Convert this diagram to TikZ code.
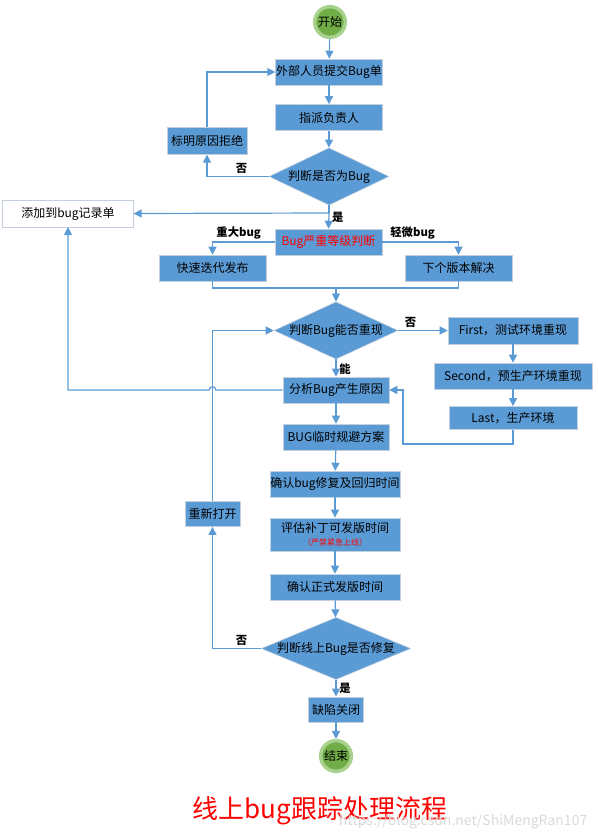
\documentclass[tikz,border=0pt]{standalone}
\usepackage{fontspec}
\setmainfont{Noto Sans CJK SC}
\usetikzlibrary{arrows.meta,shapes.geometric,calc}
\definecolor{fblue}{RGB}{91,155,213}
\definecolor{fline}{RGB}{91,155,213}
\definecolor{fborder}{RGB}{196,208,222}
\definecolor{fgreen}{RGB}{112,173,71}
\definecolor{lgreen}{RGB}{169,209,142}

\begin{document}
\begin{tikzpicture}[
  x=0.75pt,y=-0.75pt,
  font=\fontsize{9}{11}\selectfont,
  box/.style={draw=fborder,fill=fblue,inner sep=0pt,minimum width=80pt,minimum height=19.5pt,align=center},
  dec/.style={diamond,aspect=2.3,draw=fborder,fill=fblue,inner sep=0pt,minimum width=90pt,minimum height=43pt},
  term/.style={circle,draw=lgreen,line width=2.6pt,fill=fgreen,minimum size=23pt,inner sep=0pt},
  arr/.style={-{Triangle[length=6pt,width=6pt]},fline,line width=0.9pt},
  ln/.style={fline,line width=0.9pt},
  lbl/.style={font=\fontsize{8.5}{10}\selectfont\bfseries,text=black,inner sep=2pt},
  ]
  \useasboundingbox (0,0) rectangle (598,839);
  % main column
  \node[term] (start) at (330,22) {开始};
  \node[box] (submit) at (329,72) {外部人员提交Bug单};
  \node[box] (assign) at (329,117.5) {指派负责人};
  \node[box,minimum width=60pt,minimum height=20pt] (reject) at (207,141) {标明原因拒绝};
  \node[dec] (isbug) at (329,176.5) {判断是否为Bug};
  \node[box,fill=white,minimum width=98pt,minimum height=20pt] (addlog) at (68,213.5) {添加到bug记录单};
  \coordinate (split) at (329,213);
  \node[box] (grade) at (328.5,242) {\color{red}Bug严重等级判断};
  \node[box] (quick) at (212.5,268) {快速迭代发布};
  \node[box] (next) at (458.5,268) {下个版本解决};
  \coordinate (merge) at (336,288);
  \node[dec,minimum width=88pt] (repro) at (336,330.5) {判断Bug能否重现};
  % reproduce branch
  \node[box,minimum width=97.5pt,minimum height=20pt] (first) at (513,330.5) {First，测试环境重现};
  \node[box,minimum width=118.5pt] (second) at (513,376) {Second，预生产环境重现};
  \node[box,minimum width=96pt,minimum height=17.5pt] (last) at (513,418) {Last，生产环境};
  \coordinate (back) at (403,444);
  % fixing
  \node[box,minimum width=79.5pt] (analyze) at (336,390) {分析Bug产生原因};
  \node[box,minimum width=79.5pt] (workaround) at (336,437) {BUG临时规避方案};
  \node[box,minimum width=97.5pt] (confirm) at (335,484) {确认bug修复及回归时间};
  \node[box,minimum width=97.5pt,minimum height=25pt] (estimate) at (335,534.5)
    {评估补丁可发版时间\\[-1pt]{\fontsize{6}{7}\selectfont\color{red}（严禁紧急上线）}};
  \node[box,minimum width=97.5pt] (release) at (335,587) {确认正式发版时间};
  \node[dec,aspect=2.4,minimum width=103pt] (online) at (336,648.5) {判断线上Bug是否修复};
  \node[box,minimum width=41pt,minimum height=19pt] (reopen) at (212.5,514) {重新打开};
  \node[box,minimum width=41pt,minimum height=19pt] (closed) at (336,709.5) {缺陷关闭};
  \node[term] (finish) at (336,756) {结束};
  \coordinate (hop) at (reopen.north |- analyze.west);
  % title
  \node[font=\fontsize{19.5}{22}\selectfont,text=red] (title) at (320,811) {线上bug跟踪处理流程};
  \node[font=\fontsize{10.5}{12}\selectfont,text=gray!30,anchor=east] (mark) at (592,822) {https://blog.csdn.net/ShiMengRan107};
  % connectors
  \draw[arr] (start) -- (submit);
  \draw[arr] (submit) -- (assign);
  \draw[arr] (assign) -- (isbug);
  \draw[arr] (isbug.west) -| node[lbl,pos=0.22,above]{否} (reject.south);
  \draw[arr] (reject.north) |- (submit.west);
  \draw[ln]  (isbug.south) -- (split);
  \draw[arr] (split) -- (addlog.east);
  \draw[arr] (split) -- node[lbl,pos=0.3,anchor=west]{是} (grade.north);
  \draw[arr] (grade.west) -| node[lbl,pos=0.29,above]{重大bug} (quick.north);
  \draw[arr] (grade.east) -| node[lbl,pos=0.2,above]{轻微bug} (next.north);
  \draw[ln]  (quick.south) |- (merge);
  \draw[ln]  (next.south) |- (merge);
  \draw[arr] (merge) -- (repro.north);
  \draw[arr] (repro.east) -- node[lbl,pos=0.25,above]{否} (first.west);
  \draw[arr] (first) -- (second);
  \draw[arr] (second) -- (last);
  \draw[arr] (last.south) |- (back) |- (analyze.east);
  \draw[arr] (repro.south) -- node[lbl,pos=0.55,anchor=west]{能} (analyze.north);
  \draw[arr] (analyze) -- (workaround);
  \draw[arr] (workaround) -- (confirm);
  \draw[arr] (confirm) -- (estimate);
  \draw[arr] (estimate) -- (release);
  \draw[arr] (release) -- (online);
  \draw[arr] (analyze.west) -- ([xshift=2.5pt]hop) arc[start angle=0,end angle=180,radius=2.5pt] -| (addlog.south);
  \draw[arr] (online.west) -| node[lbl,pos=0.2,above]{否} (reopen.south);
  \draw[arr] (reopen.north) |- (repro.west);
  \draw[arr] (online.south) -- node[lbl,pos=0.5,anchor=west]{是} (closed.north);
  \draw[arr] (closed) -- (finish);
\end{tikzpicture}
\end{document}
